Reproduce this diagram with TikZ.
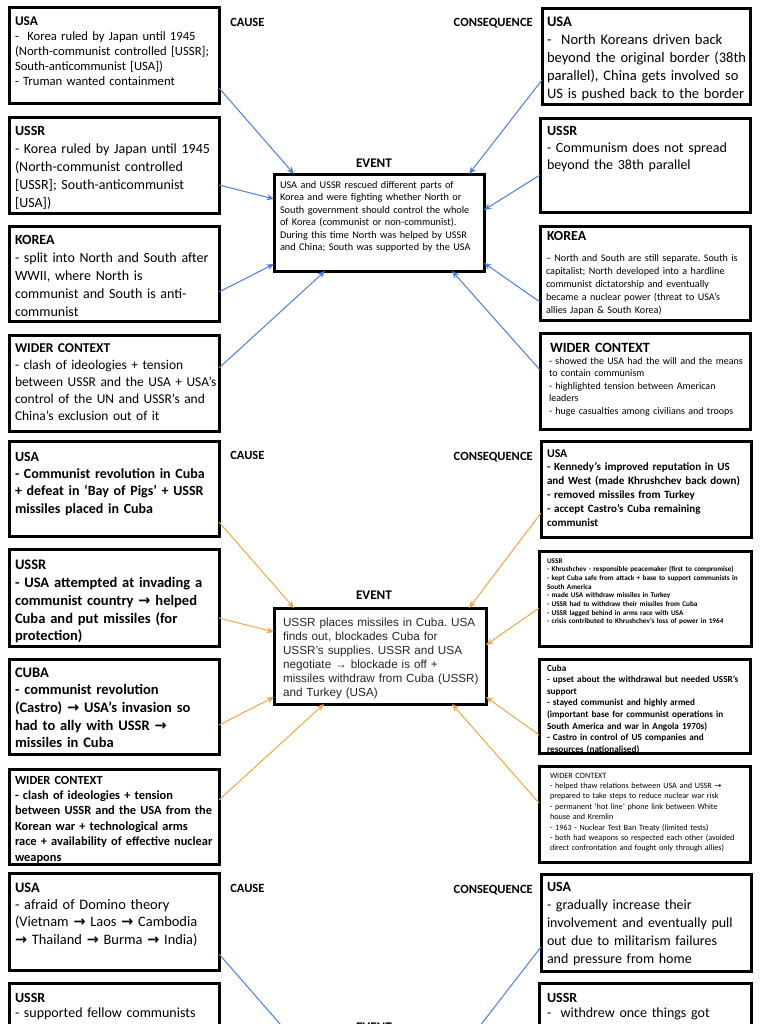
\documentclass[tikz,border=0pt]{standalone}
\usepackage{fontspec}
\setmainfont{Carlito}
\newfontfamily\arialf{Liberation Sans}
\newfontfamily\djv{DejaVu Sans}
\usetikzlibrary{fit,calc,arrows.meta}
\newcommand\fsz[2]{\fontsize{#1}{#2}\selectfont}
\newcommand\barr{{\djv\bfseries →}}
\newcommand\larr{{\djv →}}
\definecolor{cblue}{RGB}{74,126,222}
\definecolor{corange}{RGB}{245,165,69}
\frenchspacing
\begin{document}
\begin{tikzpicture}[x=0.75pt,y=-0.75pt,
  panel/.style={draw, line width=2.25pt, inner sep=0pt, outer sep=0pt},
  txt/.style={anchor=base west, inner sep=0pt, outer sep=0pt, text width=320pt, align=left},
  lbl/.style={inner sep=0pt, font=\bfseries\fsz{9.4}{11}},
  evlbl/.style={inner sep=0pt, font=\bfseries\fsz{9.9}{11}},
  barrow/.style={draw=cblue, line width=0.75pt, -{Stealth[length=5.5pt,width=4.5pt]}},
  oarrow/.style={draw=corange, line width=0.75pt, -{Stealth[length=5.5pt,width=4.5pt]}}]
\useasboundingbox (0,0) rectangle (768,1024);
\clip (0,0) rectangle (768,1024);
\fill[white] (0,0) rectangle (768,1024);

% ---------------- Section 1 ----------------
\node[panel, fit={(9,8) (219,103)}] (ua1) {};
\node[panel, fit={(9,117) (219,213)}] (us1) {};
\node[panel, fit={(9,226) (219,321)}] (ko1) {};
\node[panel, fit={(9,335) (219,431)}] (wc1) {};
\node[panel, fit={(542,9) (750,104)}] (uc1) {};
\node[panel, fit={(540,118) (750,212)}] (sc1) {};
\node[panel, fit={(540,226) (750,320)}] (kc1) {};
\node[panel, fit={(540,333) (750,429)}] (wcc1) {};
\node[panel, fit={(274,174) (484,271)}] (ev1) {};

\node[lbl, anchor=west] (cause1) at (230,22) {CAUSE};
\node[lbl, anchor=east] (cons1) at (533,23) {CONSEQUENCE};
\node[evlbl] (evl1) at (374,163) {EVENT};

\node[txt, font=\fsz{9.5}{11.25}] (ua1t) at (15,25.5) {{\fsz{10}{11.25}\textbf{USA}}\\-\ \ Korea ruled by Japan until 1945\\(North-communist controlled [USSR];\\South-anticommunist [USA])\\- Truman wanted containment};
\node[txt, font=\fsz{10.5}{13.5}] (us1t) at (15,135.5) {\textbf{USSR}\\- Korea ruled by Japan until 1945\\(North-communist controlled\\{[USSR]}; South-anticommunist\\{[USA]})};
\node[txt, font=\fsz{10.5}{13.5}] (ko1t) at (15,244.5) {\textbf{KOREA}\\- split into North and South after\\WWII, where North is\\communist and South is anti-\\communist};
\node[txt, font=\fsz{10.1}{12.75}] (wc1t) at (15,352) {\textbf{WIDER CONTEXT}\\- clash of ideologies + tension\\between USSR and the USA + USA’s\\control of the UN and USSR’s and\\China’s exclusion out of it};

\node[txt, font=\fsz{10.9}{13.5}] (uc1t) at (547,26.5) {\textbf{USA}\\-\ \ North Koreans driven back\\beyond the original border (38th\\parallel), China gets involved so\\US is pushed back to the border};
\node[txt, font=\fsz{10.5}{12.75}] (sc1t) at (547,135.5) {\textbf{USSR}\\- Communism does not spread\\beyond the 38th parallel};
\node[txt, font=\bfseries\fsz{10.4}{12}] (kc1h) at (547,240) {KOREA};
\node[txt, font=\fsz{7.6}{9.75}] (kc1t) at (546,261) {– North and South are still separate. South is\\capitalist; North developed into a hardline\\communist dictatorship and eventually\\became a nuclear power (threat to USA’s\\allies Japan \& South Korea)};
\node[txt, font=\bfseries\fsz{10.6}{12}] (wcc1h) at (550,352) {WIDER CONTEXT};
\node[txt, font=\fsz{7.5}{9.45}] (wcc1t) at (549,364) {- showed the USA had the will and the means\\to contain communism\\- highlighted tension between American\\leaders\\- huge casualties among civilians and troops};

\node[txt, font=\fsz{7.7}{9.4}] (ev1t) at (280,188) {USA and USSR rescued different parts of\\Korea and were fighting whether North or\\South government should control the whole\\of Korea (communist or non-communist).\\During this time North was helped by USSR\\and China; South was supported by the USA};

\draw[barrow] ($(ua1.south east)+(0,-15)$) -- ($(ev1.north west)+(20,0)$);
\draw[barrow] ($(us1.south east)+(0,-28)$) -- ($(ev1.north west)+(0,25)$);
\draw[barrow] ($(ko1.south east)+(0,-29)$) -- ($(ev1.south west)+(0,-7)$);
\draw[barrow] ($(wc1.north east)+(0,33)$) -- ($(ev1.south west)+(51,0)$);
\draw[barrow] ($(uc1.south west)+(0,-24)$) -- ($(ev1.north east)+(-15,0)$);
\draw[barrow] ($(sc1.north west)+(0,57)$) -- ($(ev1.north east)+(0,36)$);
\draw[barrow] ($(kc1.south west)+(0,-18)$) -- ($(ev1.south east)+(0,-8)$);
\draw[barrow] ($(wcc1.north west)+(0,37)$) -- ($(ev1.south east)+(-32,0)$);

% ---------------- Section 2 ----------------
\node[panel, fit={(9,441) (219,536)}] (ua2) {};
\node[panel, fit={(9,549) (219,646)}] (us2) {};
\node[panel, fit={(9,659) (219,754)}] (cu2) {};
\node[panel, fit={(9,769) (219,864)}] (wc2) {};
\node[panel, fit={(541,441) (751,537)}] (uc2) {};
\node[panel, fit={(539,551) (751,646)}] (sc2) {};
\node[panel, fit={(539,659) (750,753)}] (cc2) {};
\node[panel, fit={(539,766) (750,862)}] (wcc2) {};
\node[panel, fit={(274,608) (486,704)}] (ev2) {};

\node[lbl, anchor=west] (cause2) at (230,455) {CAUSE};
\node[lbl, anchor=east] (cons2) at (533,457) {CONSEQUENCE};
\node[evlbl] (evl2) at (374,595) {EVENT};

\node[txt, font=\bfseries\fsz{10.5}{13.1}] (ua2t) at (15,461) {USA\\- Communist revolution in Cuba\\+ defeat in ‘Bay of Pigs’ + USSR\\missiles placed in Cuba};
\node[txt, font=\bfseries\fsz{10.9}{13.4}] (us2t) at (15,569.5) {USSR\\- USA attempted at invading a\\communist country \barr{} helped\\Cuba and put missiles (for\\protection)};
\node[txt, font=\bfseries\fsz{10.9}{13.3}] (cu2t) at (15,677) {CUBA\\- communist revolution\\(Castro) \barr{} USA’s invasion so\\had to ally with USSR \barr{}\\missiles in Cuba};
\node[txt, font=\bfseries\fsz{9.3}{11.55}] (wc2t) at (15,784) {WIDER CONTEXT\\- clash of ideologies + tension\\between USSR and the USA from the\\Korean war + technological arms\\race + availability of effective nuclear\\weapons};

\node[txt, font=\bfseries\fsz{8.3}{10.35}] (uc2t) at (547,457) {{\fsz{8.9}{10.35}USA}\\- Kennedy’s improved reputation in US\\and West (made Khrushchev back down)\\- removed missiles from Turkey\\- accept Castro’s Cuba remaining\\communist};
\node[txt, font=\bfseries\fsz{5.4}{6.5}] (sc2t) at (547,563) {USSR\\- Khrushchev - responsible peacemaker (first to compromise)\\- kept Cuba safe from attack + base to support communists in\\South America\\- made USA withdraw missiles in Turkey\\- USSR had to withdraw their missiles from Cuba\\- USSR lagged behind in arms race with USA\\- crisis contributed to Khrushchev’s loss of power in 1964};
\node[txt, font=\bfseries\fsz{6.9}{8.7}] (cc2t) at (547,671) {Cuba\\- upset about the withdrawal but needed USSR’s\\support\\- stayed communist and highly armed\\(important base for communist operations in\\South America and war in Angola 1970s)\\- Castro in control of US companies and\\resources (nationalised)};
\node[txt, font=\fsz{6.1}{7.8}] (wcc2t) at (550,778) {WIDER CONTEXT\\- helped thaw relations between USA and USSR \larr\\prepared to take steps to reduce nuclear war risk\\- permanent ‘hot line’ phone link between White\\house and Kremlin\\- 1963 - Nuclear Test Ban Treaty (limited tests)\\- both had weapons so respected each other (avoided\\direct confrontation and fought only through allies)};

\node[txt, font=\arialf\fsz{8.8}{10.6}, text=black!85] (ev2t) at (283,626) {USSR places missiles in Cuba. USA\\finds out, blockades Cuba for\\USSR’s supplies. USSR and USA\\negotiate → blockade is off +\\missiles withdraw from Cuba (USSR)\\and Turkey (USA)};

\draw[oarrow] ($(ua2.south east)+(0,-14)$) -- ($(ev2.north west)+(20,0)$);
\draw[oarrow] ($(us2.south east)+(0,-28)$) -- ($(ev2.north west)+(0,24)$);
\draw[oarrow] ($(cu2.south east)+(0,-29)$) -- ($(ev2.south west)+(0,-7)$);
\draw[oarrow] ($(wc2.north east)+(0,31)$) -- ($(ev2.south west)+(50,0)$);
\draw[oarrow] ($(uc2.south west)+(0,-24)$) -- ($(ev2.north east)+(-17,0)$);
\draw[oarrow] ($(sc2.north west)+(0,57)$) -- ($(ev2.north east)+(0,37)$);
\draw[oarrow] ($(cc2.south west)+(0,-18)$) -- ($(ev2.south east)+(0,-7)$);
\draw[oarrow] ($(wcc2.north west)+(0,37)$) -- ($(ev2.south east)+(-34,0)$);

% ---------------- Section 3 ----------------
\node[panel, fit={(9,873) (219,970)}] (ua3) {};
\node[panel, fit={(9,983) (219,1100)}] (us3) {};
\node[panel, fit={(541,874) (751,971)}] (uc3) {};
\node[panel, fit={(539,983) (751,1100)}] (sc3) {};
\node[panel, fit={(274,1040) (484,1137)}] (ev3) {};

\node[lbl, anchor=west] (cause3) at (230,888) {CAUSE};
\node[lbl, anchor=east] (cons3) at (533,890) {CONSEQUENCE};
\node[evlbl] (evl3) at (374,1027) {EVENT};

\node[txt, font=\fsz{10.8}{13}] (ua3t) at (15,892) {\textbf{USA}\\- afraid of Domino theory\\(Vietnam \barr{} Laos \barr{} Cambodia\\\barr{} Thailand \barr{} Burma \barr{} India)};
\node[txt, font=\fsz{10.5}{11.5}] (us3t) at (15,1002) {\textbf{USSR}\\- supported fellow communists};
\node[txt, font=\fsz{10.5}{13.5}] (uc3t) at (547,891.5) {\textbf{USA}\\- gradually increase their\\involvement and eventually pull\\out due to militarism failures\\and pressure from home};
\node[txt, font=\fsz{10.5}{11.5}] (sc3t) at (547,1002) {\textbf{USSR}\\-\ \ withdrew once things got};

\draw[barrow] ($(ua3.south east)+(0,-16)$) -- ($(ev3.north west)+(20,0)$);
\draw[barrow] ($(uc3.south west)+(0,-24)$) -- ($(ev3.north east)+(-15,0)$);
\end{tikzpicture}
\end{document}
